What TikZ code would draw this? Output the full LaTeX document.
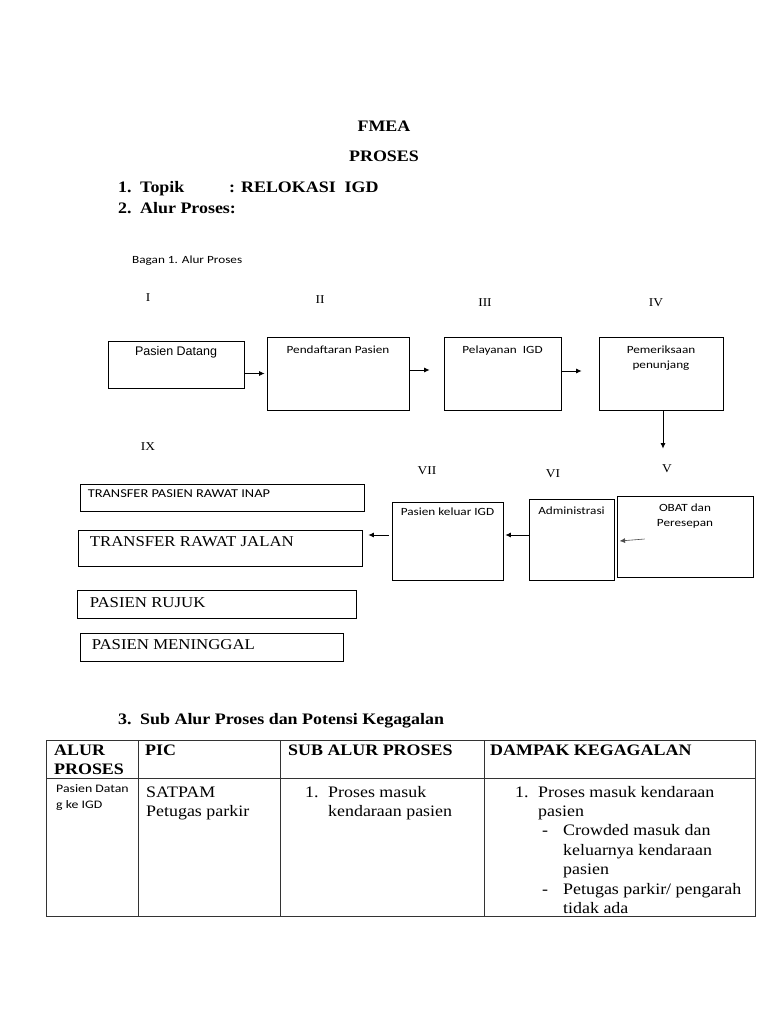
\documentclass[tikz,border=0pt]{standalone}
\usepackage{fontspec}
\setmainfont{Liberation Serif}[FakeStretch=1.12]
\newfontfamily\calib{Carlito}[FakeStretch=1.2]
\newfontfamily\arial{Liberation Sans}
\usetikzlibrary{arrows.meta}

\begin{document}
\begin{tikzpicture}[x=1pt,y=-1pt,
  kotak/.style={draw,line width=0.8pt,inner sep=0pt},
  isi/.style={font=\calib\fontsize{11}{15}\selectfont,inner sep=0pt,align=center},
  besar/.style={font=\fontsize{15}{18}\selectfont,inner sep=0pt},
  panah/.style={-{Latex[length=5.5pt,width=5pt]},line width=0.8pt},
  romawi/.style={font=\fontsize{12}{14}\selectfont},
  tebal/.style={font=\fontsize{16}{19}\selectfont\bfseries,anchor=base west,inner sep=0pt},
  teks/.style={font=\fontsize{16}{19}\selectfont,anchor=base west,inner sep=0pt},
  kecil/.style={font=\calib\fontsize{11.5}{14}\selectfont,anchor=base west,inner sep=0pt}]
\fill[white] (0,0) rectangle (768,1024);
\useasboundingbox (0,0) rectangle (768,1024);

% judul
\node[tebal,anchor=base] (fmea) at (384,132) {FMEA};
\node[tebal,anchor=base] (proses) at (384,162) {PROSES};
\node[tebal] (no1) at (118,193) {1.};
\node[tebal] (topik) at (140,193) {Topik};
\node[tebal] (relokasi) at (229,193) {: RELOKASI\ \ IGD};
\node[tebal] (no2) at (118,214) {2.};
\node[tebal] (alur) at (140,214) {Alur Proses:};
\node[kecil,font=\calib\fontsize{11}{13}\selectfont] (bagan) at (132,263) {Bagan 1. Alur Proses};

% nomor tahap
\node[romawi] (r1) at (148,298) {I};
\node[romawi] (r2) at (320,300) {II};
\node[romawi] (r3) at (485,303) {III};
\node[romawi] (r4) at (656,303) {IV};
\node[romawi] (r9) at (148,447) {IX};
\node[romawi] (r7) at (427,471) {VII};
\node[romawi] (r6) at (553,474) {VI};
\node[romawi] (r5) at (667,469) {V};

% kotak alur
\node[kotak,minimum width=136,minimum height=47,
  label={[font=\arial\fontsize{12.5}{15}\selectfont,inner sep=0pt,anchor=north,yshift=-6pt]north:Pasien Datang}]
  (datang) at (176,364.5) {};
\node[kotak,minimum width=142,minimum height=73,
  label={[isi,anchor=north,yshift=-9pt]north:Pendaftaran Pasien}] (daftar) at (338,373.5) {};
\node[kotak,minimum width=117,minimum height=73,
  label={[isi,anchor=north,yshift=-9pt]north:Pelayanan\ \ IGD}] (layan) at (502.5,373.5) {};
\node[kotak,minimum width=124,minimum height=73,
  label={[isi,anchor=north,yshift=-9pt]north:Pemeriksaan\\penunjang}] (periksa) at (661,373.5) {};
\node[kotak,minimum width=136,minimum height=81,
  label={[isi,anchor=north,yshift=-8pt]north:OBAT dan\\Peresepan}] (obat) at (685,536.5) {};
\node[kotak,minimum width=85,minimum height=81,
  label={[isi,anchor=north,yshift=-8pt]north:Administrasi}] (admin) at (571.5,539.5) {};
\node[kotak,minimum width=111,minimum height=78,
  label={[isi,anchor=north,yshift=-6pt]north:Pasien keluar IGD}] (keluar) at (447.5,541) {};

% kotak keluaran
\node[kotak,minimum width=284,minimum height=27,
  label={[isi,font=\calib\fontsize{12}{14}\selectfont,anchor=west,xshift=8pt,yshift=3.5pt]west:TRANSFER PASIEN RAWAT INAP}] (inap) at (222,497.5) {};
\node[kotak,minimum width=284,minimum height=36,
  label={[besar,anchor=west,xshift=12pt,yshift=6pt]west:TRANSFER RAWAT JALAN}] (jalan) at (220,548) {};
\node[kotak,minimum width=279,minimum height=28,
  label={[besar,anchor=west,xshift=13pt,yshift=1pt]west:PASIEN RUJUK}] (rujuk) at (216.5,604) {};
\node[kotak,minimum width=263,minimum height=28,
  label={[besar,anchor=west,xshift=12pt,yshift=2pt]west:PASIEN MENINGGAL}] (mati) at (211.5,647) {};

% panah
\draw[panah] (datang.east |- daftar.west) -- ([xshift=-2pt]daftar.west);
\draw[panah] ([yshift=3.5pt]daftar.east) -- ([xshift=-14pt,yshift=3.5pt]layan.west);
\draw[panah] ([yshift=2.5pt]layan.east) -- ([xshift=-17pt,yshift=2.5pt]periksa.west);
\draw[panah] ([xshift=2pt]periksa.south) -- ([xshift=-22pt,yshift=47pt]obat.north);
\draw[panah,line width=0.6pt,black!70] ([xshift=28pt,yshift=-2.5pt]obat.west) -- ([xshift=3pt,yshift=-4.5pt]obat.west);
\draw[panah] ([yshift=4.5pt]admin.west) -- ([xshift=2pt,yshift=6pt]keluar.east);
\draw[panah] ([xshift=-3pt,yshift=6pt]keluar.west) -- ([xshift=6pt,yshift=13pt]jalan.east);

% bagian 3
\node[tebal] (no3) at (118,724) {3.};
\node[tebal] (sub) at (140,724) {Sub Alur Proses dan Potensi Kegagalan};

% tabel
\draw[line width=1pt,black!80] (46,740) rectangle (755,916);
\draw[line width=1pt,black!80] (46,778.5) -- (755,778.5);
\foreach \x in {138,280,484} {\draw[line width=1pt,black!80] (\x,740) -- (\x,916);}

\node[tebal] (h1a) at (54,755.5) {ALUR};
\node[tebal] (h1b) at (54,774) {PROSES};
\node[tebal] (h2) at (145,755.5) {PIC};
\node[tebal] (h3) at (288,755.5) {SUB ALUR PROSES};
\node[tebal] (h4) at (490,755.5) {DAMPAK KEGAGALAN};

\node[kecil] (c1a) at (56,792) {Pasien Datan};
\node[kecil] (c1b) at (56,808) {g ke IGD};
\node[teks] (c2a) at (146,797) {SATPAM};
\node[teks] (c2b) at (146,816) {Petugas parkir};
\node[teks] (c3n) at (305,797) {1.};
\node[teks] (c3a) at (328,797) {Proses masuk};
\node[teks] (c3b) at (328,816) {kendaraan pasien};
\node[teks] (c4n) at (515,797) {1.};
\node[teks] (c4a) at (538,797) {Proses masuk kendaraan};
\node[teks] (c4b) at (538,816) {pasien};
\node[teks] (c4d1) at (542,835.5) {-};
\node[teks] (c4c) at (563,835.5) {Crowded masuk dan};
\node[teks] (c4d) at (563,855) {keluarnya kendaraan};
\node[teks] (c4e) at (563,874.5) {pasien};
\node[teks] (c4d2) at (542,894) {-};
\node[teks] (c4f) at (563,894) {Petugas parkir/ pengarah};
\node[teks] (c4g) at (563,913) {tidak ada};
\end{tikzpicture}
\end{document}
